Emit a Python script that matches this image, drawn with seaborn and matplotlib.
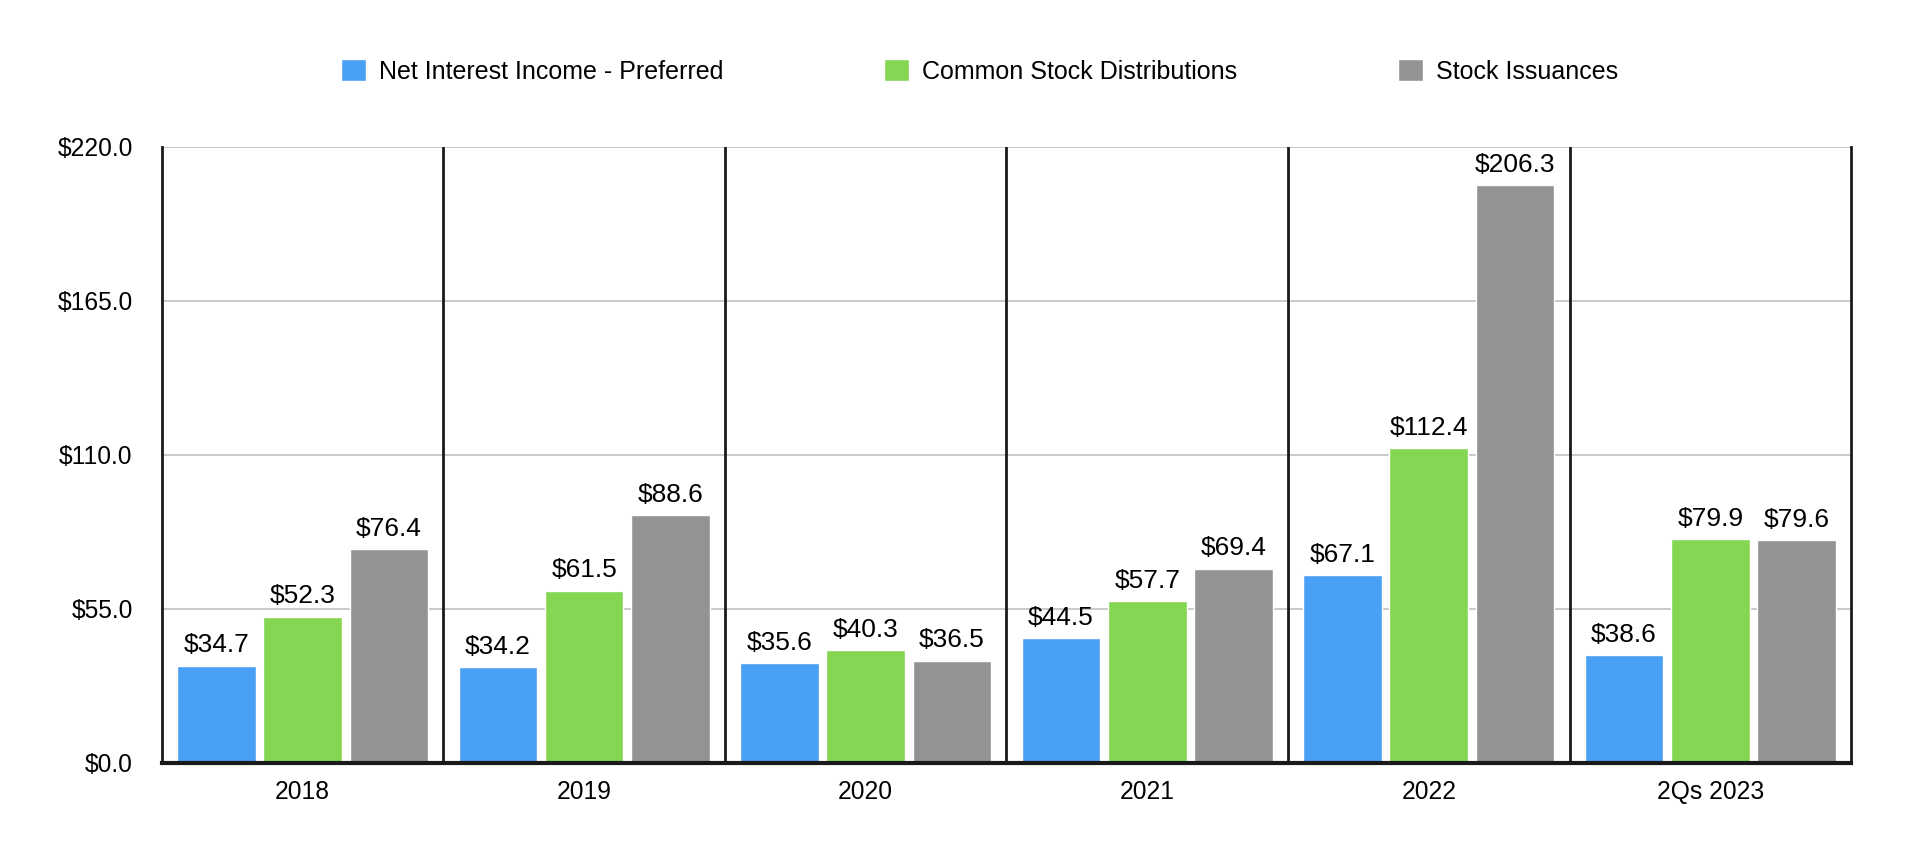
import pandas as pd
import matplotlib
matplotlib.use("Agg")
import matplotlib.pyplot as plt
import seaborn as sns

# ---- data ----
periods = ["2018", "2019", "2020", "2021", "2022", "2Qs 2023"]
series_names = ["Net Interest Income - Preferred", "Common Stock Distributions", "Stock Issuances"]
net_interest_pref = [34.7, 34.2, 35.6, 44.5, 67.1, 38.6]
common_distributions = [52.3, 61.5, 40.3, 57.7, 112.4, 79.9]
stock_issuances = [76.4, 88.6, 36.5, 69.4, 206.3, 79.6]
y_ticks = [0.0, 55.0, 110.0, 165.0, 220.0]

colors = ["#4aa0f5", "#84d653", "#939393"]

df = pd.DataFrame({
    "period": periods * 3,
    "series": [s for s in series_names for _ in periods],
    "value": net_interest_pref + common_distributions + stock_issuances,
})

sns.set_theme(style="white")
plt.rcParams["font.family"] = ["Liberation Sans", "DejaVu Sans"]
plt.rcParams["text.color"] = "black"

fig = plt.figure(figsize=(19.14, 8.52), dpi=100)
ax = fig.add_axes([0.0846, 0.1045, 0.8825, 0.723])

sns.barplot(
    data=df, x="period", y="value", hue="series",
    order=periods, hue_order=series_names, palette=colors,
    width=0.92, gap=0.09, saturation=1, ax=ax, legend=True,
)

# value labels
for cont in ax.containers:
    ax.bar_label(cont, labels=[f"${v:.1f}" for v in cont.datavalues],
                 padding=6, fontsize=19, color="black")

ax.set_xlim(-0.5, len(periods) - 0.5)
ax.set_ylim(0, 220)
ax.set_yticks(y_ticks)
ax.set_yticklabels([f"${t:.1f}" for t in y_ticks])
ax.tick_params(axis="x", labelsize=17.7, pad=12, length=0, labelcolor="black")
ax.tick_params(axis="y", labelsize=17.7, pad=21, length=0, labelcolor="black")
ax.set_xlabel("")
ax.set_ylabel("")

ax.yaxis.grid(True, color="#c0c0c0", linewidth=1.2)
ax.set_axisbelow(True)

# separators between groups
for i in range(1, len(periods)):
    ax.axvline(i - 0.5, color="#1a1a1a", linewidth=2, zorder=3)

for side in ["left", "right"]:
    ax.spines[side].set_color("#1a1a1a")
    ax.spines[side].set_linewidth(2)
ax.spines["bottom"].set_color("#1a1a1a")
ax.spines["bottom"].set_linewidth(3)
ax.spines["bottom"].set_zorder(4)
ax.spines["top"].set_visible(False)

handles, labels = ax.get_legend_handles_labels()
ax.legend(handles, labels, loc="center", bbox_to_anchor=(0.484, 1.123),
          ncol=3, frameon=False, fontsize=18, handlelength=1.0,
          handleheight=1.0, handletextpad=0.55, columnspacing=6.4)

fig.savefig("out.png", dpi=100, facecolor="white")
